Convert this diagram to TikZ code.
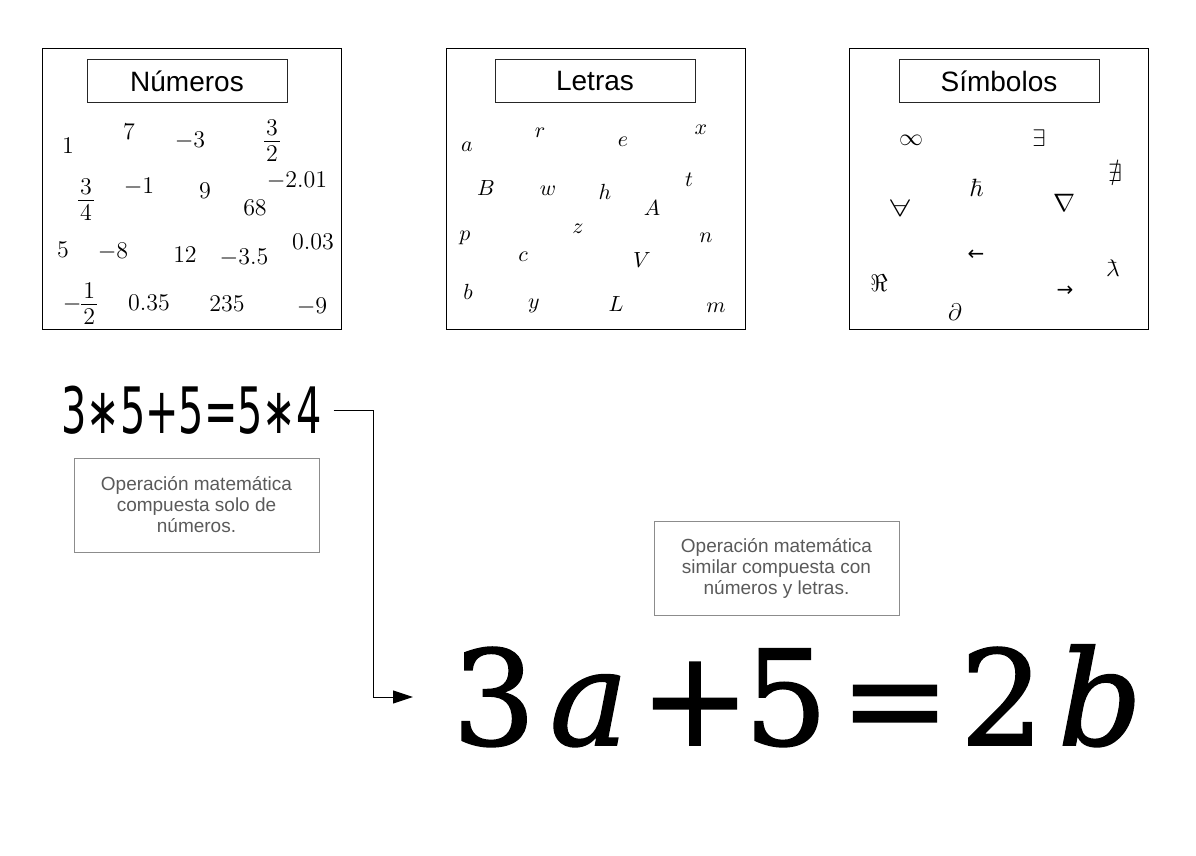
\documentclass[tikz,border=0pt]{standalone}
\usepackage[no-math]{fontspec}
\usepackage{amssymb}
\usepackage{graphicx}
\usetikzlibrary{arrows.meta}
\newfontfamily\arial{Liberation Sans}
\newfontfamily\djsans{DejaVu Sans}
\newfontfamily\djserif{DejaVu Serif}[FakeBold=1.2]
\definecolor{notetext}{HTML}{5A5A5A}
\definecolor{noteline}{HTML}{8C8C8C}
\newcommand\myfr[2]{\ensuremath{\vcenter{\offinterlineskip\halign{\hfil\kern1pt##\kern1pt\hfil\cr $#1$\cr\noalign{\kern2.3pt\hrule height0.45pt\kern2.3pt}$#2$\cr}}}}
\begin{document}
\begin{tikzpicture}[x=0.5pt,y=-0.5pt,
  outerbox/.style={draw=black,line width=0.5pt,minimum width=149.5pt,minimum height=140.5pt,inner sep=0,outer sep=0},
  titlebox/.style={draw=black!85,line width=0.5pt,minimum width=100pt,minimum height=21.5pt,inner sep=0,outer sep=0,font=\arial\fontsize{14}{16}\selectfont},
  sym/.style={inner sep=0,outer sep=0,font=\fontsize{11}{13}\selectfont},
  num/.style={inner sep=0,outer sep=0,font=\fontsize{12}{14}\selectfont},
  msym/.style={inner sep=0,outer sep=0,font=\fontsize{12.5}{14}\selectfont},
  note/.style={draw=noteline,line width=0.5pt,text=notetext,align=center,minimum width=122.5pt,minimum height=47pt,inner sep=0,font=\arial\fontsize{9.5}{10.5}\selectfont},
  big/.style={inner sep=0,outer sep=0,anchor=base,font=\djserif\fontsize{66}{70}\selectfont},
  conn/.style={draw=black,line width=0.5pt,-{Triangle[length=10pt,width=6.5pt]}}]
\useasboundingbox (0,0) rectangle (1196,856);

% --- boxes
\node[outerbox] (numbox) at (191.5,189.5) {};
\node[outerbox] (letbox) at (595.5,189.5) {};
\node[outerbox] (symbox) at (998.5,189.5) {};
\node[titlebox] (numtitle) at (187,81.5) {Números};
\node[titlebox] (lettitle) at (595,81.5) {Letras};
\node[titlebox] (symtitle) at (999,81.5) {Símbolos};

% --- numbers
\node[num] (n1) at (68,146) {$1$};
\node[num] (n2) at (129,132) {$7$};
\node[num] (n3) at (190,141) {$-3$};
\node[num] (n4) at (272,141) {\myfr{3}{2}};
\node[num] (n5) at (297,181) {$-2.01$};
\node[num] (n6) at (86,200) {\myfr{3}{4}};
\node[num] (n7) at (139,187) {$-1$};
\node[num] (n8) at (205,191) {$9$};
\node[num] (n9) at (255,208) {$68$};
\node[num] (n10) at (63,250) {$5$};
\node[num] (n11) at (113,252) {$-8$};
\node[num] (n12) at (185,255) {$12$};
\node[num] (n13) at (244,258) {$-3.5$};
\node[num] (n14) at (313,242) {$0.03$};
\node[num] (n15) at (80,304) {$-$\myfr{1}{2}};
\node[num] (n16) at (149,303) {$0.35$};
\node[num] (n17) at (227,304) {$235$};
\node[num] (n18) at (312,307) {$-9$};

% --- letters
\node[sym] (l1) at (467,147) {$a$};
\node[sym] (l2) at (540,133) {$r$};
\node[sym] (l3) at (623,142) {$e$};
\node[sym] (l4) at (701,130) {$x$};
\node[sym] (l5) at (486,188) {$B$};
\node[sym] (l6) at (548,191) {$w$};
\node[sym] (l7) at (605,192) {$h$};
\node[sym] (l8) at (689,180) {$t$};
\node[sym] (l9) at (652,208) {$A$};
\node[sym] (l10) at (465,238) {$p$};
\node[sym] (l11) at (578,229) {$z$};
\node[sym] (l12) at (706,238) {$n$};
\node[sym] (l13) at (523,257) {$c$};
\node[sym] (l14) at (642,260) {$V$};
\node[sym] (l15) at (468,292) {$b$};
\node[sym] (l16) at (534,306) {$y$};
\node[sym] (l17) at (616,304) {$L$};
\node[sym] (l18) at (716,308) {$m$};

% --- symbols
\node[msym] (s1) at (911,140) {$\infty$};
\node[msym] (s2) at (1039,138) {$\exists$};
\node[msym] (s3) at (1115,173) {$\nexists$};
\node[msym] (s4) at (976,188) {$\hbar$};
\node[msym] (s5) at (900,208) {\scalebox{1.5}[1]{$\forall$}};
\node[msym] (s6) at (1064,203) {\scalebox{1.1}[1.05]{$\nabla$}};
\node[sym,font=\djsans\fontsize{10}{12}\selectfont] (s7) at (976,255) {←};
\node[msym] (s8) at (1113,268) {${\mathchar'26\mkern-9mu\lambda}$};
\node[msym] (s9) at (879,283) {$\Re$};
\node[sym,font=\djsans\fontsize{10}{12}\selectfont] (s10) at (1065,291) {→};
\node[msym] (s11) at (955,312) {$\partial$};

% --- first equation and note
\node[inner ysep=0,inner xsep=6pt,outer sep=0] (eq1) at (191.5,410)
  {\scalebox{0.623}[1]{\djsans\fontsize{32}{38}\selectfont 3∗5+5=5∗4}};
\node[note] (note1) at (196.5,505) {Operación matemática\\compuesta solo de\\números.};
\node[note] (note2) at (776.5,568) {Operación matemática\\similar compuesta con\\números y letras.};

% --- big equation
\node[big] (b1) at (494,745) {3};
\node[big,font=\djserif\itshape\fontsize{66}{70}\selectfont] (b2) at (589,745) {a};
\node[big] (b3) at (695,745) {+};
\node[big] (b4) at (786,745) {5};
\node[big] (b5) at (895,745) {=};
\node[big] (b6) at (1002,745) {2};
\node[big,font=\djserif\itshape\fontsize{66}{70}\selectfont] (b7) at (1100,745) {b};

% --- connector
\coordinate (bend) at (373,697);
\coordinate (tipend) at (413,697);
\draw[conn] (eq1.east) -| (bend) -- (tipend);
\end{tikzpicture}
\end{document}
